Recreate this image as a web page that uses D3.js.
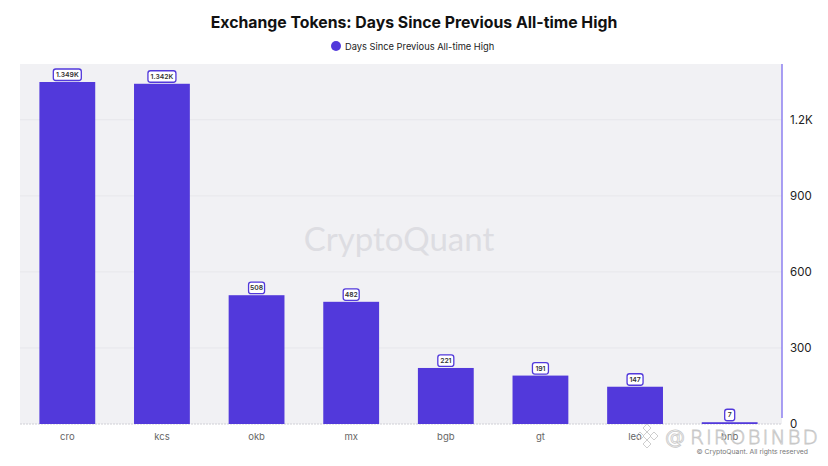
<!DOCTYPE html>
<html>
<head>
<meta charset="utf-8">
<script src="https://cdn.jsdelivr.net/npm/d3@7"></script>
<style>
  html, body { margin: 0; padding: 0; background: #ffffff; }
  svg { display: block; font-family: Inter, "Noto Sans", sans-serif; }
</style>
</head>
<body>
<svg id="chart" width="828" height="466"></svg>
<script>
const categories = ["cro", "kcs", "okb", "mx", "bgb", "gt", "leo", "bnb"];
const daysSinceATH = [1349, 1342, 508, 482, 221, 191, 147, 7];
const valueLabels = ["1.349K", "1.342K", "508", "482", "221", "191", "147", "7"];
const yTicks = [0, 300, 600, 900, 1200];
const yTickLabels = ["0", "300", "600", "900", "1.2K"];
const seriesName = "Days Since Previous All-time High";
const title = "Exchange Tokens: Days Since Previous All-time High";

const svg = d3.select("#chart");
const plot = { left: 20, right: 782, top: 64, bottom: 424 };
const barColor = "#5239db";

const x = d3.scaleBand().domain(categories).range([20, 777]).paddingInner(0.41).paddingOuter(0.205);
const y = d3.scaleLinear().domain([0, 1420]).range([plot.bottom, plot.top]);

// plot background
svg.append("rect")
  .attr("x", plot.left).attr("y", plot.top)
  .attr("width", plot.right - plot.left).attr("height", plot.bottom - plot.top)
  .attr("fill", "#f1f1f4");

// gridlines
svg.append("g").selectAll("line")
  .data(yTicks.filter(d => d > 0))
  .join("line")
  .attr("x1", plot.left).attr("x2", plot.right)
  .attr("y1", d => y(d)).attr("y2", d => y(d))
  .attr("stroke", "#e7e7eb").attr("stroke-width", 1);

// watermark
svg.append("text")
  .attr("x", 399).attr("y", 251)
  .attr("text-anchor", "middle")
  .attr("font-size", 33)
  .attr("font-family", "Lato, 'Noto Sans', sans-serif")
  .attr("fill", "#dddde2")
  .text("CryptoQuant");

// baseline
svg.append("line")
  .attr("x1", plot.left).attr("x2", plot.right)
  .attr("y1", plot.bottom).attr("y2", plot.bottom)
  .attr("stroke", "#cfcfd6").attr("stroke-width", 1).attr("stroke-dasharray", "2,1");

// bars
svg.append("g").selectAll("rect")
  .data(categories)
  .join("rect")
  .attr("x", d => x(d))
  .attr("y", (d, i) => y(daysSinceATH[i]))
  .attr("width", x.bandwidth())
  .attr("height", (d, i) => Math.max(1.5, y(0) - y(daysSinceATH[i])))
  .attr("fill", barColor);

// value label boxes
const lbl = svg.append("g").selectAll("g")
  .data(categories)
  .join("g")
  .attr("transform", (d, i) => `translate(${x(d) + x.bandwidth() / 2},${y(daysSinceATH[i]) - 1})`);
lbl.each(function(d, i) {
  const g = d3.select(this);
  const t = valueLabels[i];
  const w = t.length <= 1 ? 10 : t.length * 4 + 4;
  g.append("rect")
    .attr("x", -w / 2).attr("y", -12)
    .attr("width", w).attr("height", 11.5)
    .attr("rx", 2.5)
    .attr("fill", "#ffffff")
    .attr("stroke", barColor).attr("stroke-width", 1.3);
  g.append("text")
    .attr("x", 0).attr("y", -4)
    .attr("text-anchor", "middle")
    .attr("font-size", 6.8)
    .attr("font-weight", 600)
    .attr("fill", "#333")
    .text(t);
});

// right axis line
svg.append("line")
  .attr("x1", plot.right).attr("x2", plot.right)
  .attr("y1", plot.top).attr("y2", 418)
  .attr("stroke", "#8d7ff0").attr("stroke-width", 1.5);

// y tick labels
svg.append("g").selectAll("text")
  .data(yTicks)
  .join("text")
  .attr("x", 790)
  .attr("y", d => y(d) + 4)
  .attr("font-size", 11.5)
  .attr("fill", "#222")
  .text((d, i) => yTickLabels[i]);

// x labels
svg.append("g").selectAll("text")
  .data(categories)
  .join("text")
  .attr("x", d => x(d) + x.bandwidth() / 2)
  .attr("y", 440)
  .attr("text-anchor", "middle")
  .attr("font-size", 9.5)
  .attr("fill", "#666")
  .text(d => d);

// title
svg.append("text")
  .attr("x", 414).attr("y", 28)
  .attr("text-anchor", "middle")
  .attr("font-size", 15.8)
  .attr("font-weight", 700)
  .attr("fill", "#111")
  .text(title);

// legend
svg.append("circle").attr("cx", 336).attr("cy", 46).attr("r", 5).attr("fill", barColor);
svg.append("text")
  .attr("x", 345).attr("y", 49.5)
  .attr("font-size", 9.3)
  .attr("fill", "#222")
  .text(seriesName);

// bottom overlay watermark (logo + handle) + copyright
const wm = svg.append("g").attr("fill", "none").attr("stroke", "#c8c8c8").attr("stroke-width", 0.9);
const cx = 647, cy = 436;
[[0, -8], [-7, 0], [7, 0], [0, 8], [0, 0]].forEach(([dx, dy]) => {
  wm.append("path")
    .attr("d", `M${cx + dx},${cy + dy - 4}L${cx + dx + 4},${cy + dy}L${cx + dx},${cy + dy + 4}L${cx + dx - 4},${cy + dy}Z`);
});
svg.append("text")
  .attr("x", 665).attr("y", 444)
  .attr("font-size", 20)
  .attr("font-family", "'DejaVu Sans', sans-serif")
  .attr("fill", "none").attr("stroke", "#c8c8c8").attr("stroke-width", 0.8)
  .text("@");
svg.append("text")
  .attr("x", 690).attr("y", 444)
  .attr("font-size", 20)
  .attr("font-family", "'DejaVu Sans', sans-serif")
  .attr("font-weight", 300)
  .attr("textLength", 128).attr("lengthAdjust", "spacing")
  .attr("fill", "none").attr("stroke", "#c8c8c8").attr("stroke-width", 0.8)
  .text("RIROBINBD");
svg.append("text")
  .attr("x", 808).attr("y", 454)
  .attr("text-anchor", "end")
  .attr("font-size", 6.8)
  .attr("fill", "#777")
  .text("© CryptoQuant. All rights reserved");
</script>
</body>
</html>
